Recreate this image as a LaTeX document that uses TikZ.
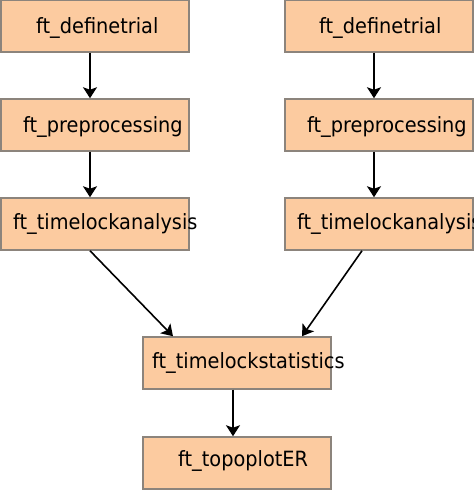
\documentclass[tikz,border=0pt]{standalone}
\usepackage{fontspec}
\setmainfont{DejaVu Sans}[FakeStretch=0.92]
\usetikzlibrary{arrows.meta}
\definecolor{boxfill}{RGB}{252,203,160}
\definecolor{boxline}{RGB}{140,132,124}
\begin{document}
\begin{tikzpicture}[x=1pt,y=1pt,
  fbox/.style={draw=boxline,fill=boxfill,line width=1.5pt,minimum width=188pt,minimum height=52pt,inner sep=0pt},
  ftext/.style={anchor=base west,inner sep=0pt,font=\fontsize{21}{25}\selectfont},
  conn/.style={line width=1.6pt,-{Stealth[length=11pt,width=14pt,inset=2.5pt]}}]
\useasboundingbox (0,0) rectangle (474,491);
% boxes
\node[fbox] (l1) at (95,465) {};
\node[fbox] (l2) at (95,366) {};
\node[fbox] (l3) at (95,267) {};
\node[fbox] (r1) at (379,465) {};
\node[fbox] (r2) at (379,366) {};
\node[fbox] (r3) at (379,267) {};
\node[fbox] (s) at (237,128) {};
\node[fbox] (t) at (237,28) {};
% texts
\node[ftext] (tl1) at (36,457.5) {ft\_definetrial};
\node[ftext] (tl2) at (23,358.5) {ft\_preprocessing};
\node[ftext] (tl3) at (13,261) {ft\_timelockanalysis};
\node[ftext] (tr1) at (319,457.5) {ft\_definetrial};
\node[ftext] (tr2) at (307,358.5) {ft\_preprocessing};
\node[ftext] (tr3) at (297,261) {ft\_timelockanalysis};
\node[ftext] (ts) at (152,122) {ft\_timelockstatistics};
\node[ftext] (tt) at (178,24) {ft\_topoplotER};
% connectors
\draw[conn] ([xshift=-5pt]l1.south) -- ([xshift=-5pt]l2.north);
\draw[conn] ([xshift=-5pt]l2.south) -- ([xshift=-5pt]l3.north);
\draw[conn] ([xshift=-5pt]r1.south) -- ([xshift=-5pt]r2.north);
\draw[conn] ([xshift=-5pt]r2.south) -- ([xshift=-5pt]r3.north);
\draw[conn] ([xshift=-5pt]l3.south) -- ([xshift=-64pt]s.north);
\draw[conn] ([xshift=-17pt]r3.south) -- ([xshift=65pt]s.north);
\draw[conn] ([xshift=-4pt]s.south) -- ([xshift=-4pt]t.north);
\end{tikzpicture}
\end{document}
